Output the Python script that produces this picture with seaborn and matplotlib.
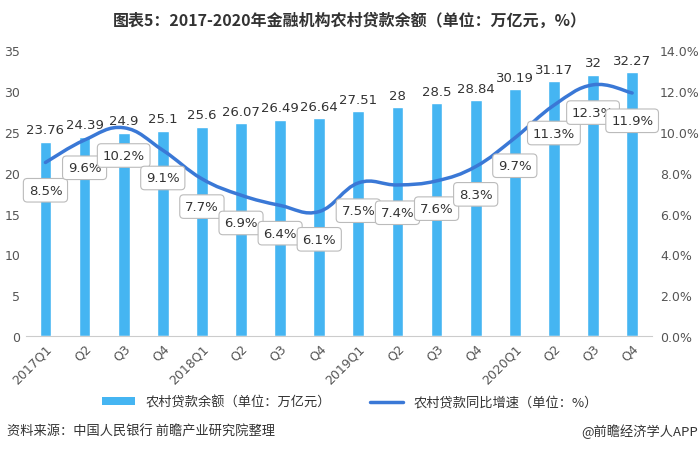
import matplotlib
matplotlib.use("Agg")
import matplotlib.pyplot as plt
from matplotlib.path import Path
from matplotlib.patches import PathPatch, Patch
from matplotlib.lines import Line2D
import numpy as np
import pandas as pd
import seaborn as sns

quarters = ["2017Q1", "Q2", "Q3", "Q4", "2018Q1", "Q2", "Q3", "Q4",
            "2019Q1", "Q2", "Q3", "Q4", "2020Q1", "Q2", "Q3", "Q4"]
balance = [23.76, 24.39, 24.9, 25.1, 25.6, 26.07, 26.49, 26.64,
           27.51, 28, 28.5, 28.84, 30.19, 31.17, 32, 32.27]
balance_text = ["23.76", "24.39", "24.9", "25.1", "25.6", "26.07", "26.49", "26.64",
                "27.51", "28", "28.5", "28.84", "30.19", "31.17", "32", "32.27"]
growth = [8.5, 9.6, 10.2, 9.1, 7.7, 6.9, 6.4, 6.1,
          7.5, 7.4, 7.6, 8.3, 9.7, 11.3, 12.3, 11.9]

bar_color = "#45B5F2"
line_color = "#3A78D6"
num_font = ["DejaVu Sans"]

sns.set_style("white")
plt.rcParams["font.family"] = ["Noto Sans CJK SC", "DejaVu Sans"]

df = pd.DataFrame({"idx": range(len(quarters)), "balance": balance})

fig = plt.figure(figsize=(7, 4.52), dpi=100)
ax = fig.add_axes([0.037, 0.254, 0.894, 0.633])
sns.barplot(data=df, x="idx", y="balance", color=bar_color, width=0.3,
            saturation=1, ax=ax)
labels = ax.bar_label(ax.containers[0], labels=balance_text, padding=4,
                      fontsize=9.5, color="#333333")
for t in labels:
    t.set_family(num_font)
ax.set_ylim(0, 35)
ax.set_yticks(range(0, 36, 5))
ax.set_xlim(-0.5, len(quarters) - 0.5)
ax.set_xticks(range(len(quarters)))
ax.set_xticklabels(quarters, rotation=45, ha="right", rotation_mode="anchor")
ax.set_xlabel("")
ax.set_ylabel("")
ax.tick_params(axis="both", labelsize=9, labelcolor="#555555", length=0, pad=4)
for t in ax.get_xticklabels() + ax.get_yticklabels():
    t.set_family(num_font)
for s in ["top", "left", "right"]:
    ax.spines[s].set_visible(False)
ax.spines["bottom"].set_color("#cccccc")

ax2 = ax.twinx()
ax2.set_ylim(0, 14)
ax2.set_yticks(np.arange(0, 14.1, 2))
ax2.set_yticklabels([f"{v:.1f}%" for v in np.arange(0, 14.1, 2)])
ax2.tick_params(axis="y", labelsize=9, labelcolor="#555555", length=0, pad=6)
for t in ax2.get_yticklabels():
    t.set_family(num_font)
for s in ax2.spines.values():
    s.set_visible(False)

# smooth curve through the growth points (cubic Bezier segments)
xs = np.arange(len(growth), dtype=float)
ys = np.array(growth, dtype=float)
k = 0.2
verts = [(xs[0], ys[0])]
codes = [Path.MOVETO]
n = len(xs)
for i in range(n - 1):
    p0 = max(i - 1, 0)
    p3 = min(i + 2, n - 1)
    c1 = (xs[i] + (xs[i + 1] - xs[p0]) * k, ys[i] + (ys[i + 1] - ys[p0]) * k)
    c2 = (xs[i + 1] - (xs[p3] - xs[i]) * k, ys[i + 1] - (ys[p3] - ys[i]) * k)
    verts += [c1, c2, (xs[i + 1], ys[i + 1])]
    codes += [Path.CURVE4, Path.CURVE4, Path.CURVE4]
ax2.add_patch(PathPatch(Path(verts, codes), fill=False, edgecolor=line_color,
                        linewidth=2.5, capstyle="round", zorder=3))

for x, y in zip(xs, ys):
    ax2.annotate(f"{y}%", (x, y), xytext=(0, -20), textcoords="offset points",
                 ha="center", va="center", fontsize=9.5, color="#333333",
                 family=num_font,
                 bbox=dict(boxstyle="round,pad=0.4,rounding_size=0.3",
                           fc="white", ec="#bbbbbb", lw=0.8), zorder=4)

fig.text(0.5, 0.955, "图表5：2017-2020年金融机构农村贷款余额（单位：万亿元，%）",
         ha="center", va="center", fontsize=11.5, fontweight="bold", color="#333333")

handles = [Patch(facecolor=bar_color, edgecolor="none"),
           Line2D([0], [0], color=line_color, linewidth=2.5)]
fig.legend(handles, ["农村贷款余额（单位：万亿元）", "农村贷款同比增速（单位：%）"],
           loc="center", bbox_to_anchor=(0.5, 0.108), ncol=2, frameon=False,
           fontsize=9.5, handlelength=2.5, handleheight=0.5, columnspacing=3,
           labelcolor="#333333")

fig.text(0.01, 0.044, "资料来源：中国人民银行 前瞻产业研究院整理", ha="left",
         va="center", fontsize=9.5, color="#333333")
fig.text(0.997, 0.044, "@前瞻经济学人APP", ha="right", va="center",
         fontsize=9.5, color="#333333")

fig.savefig("out.png", dpi=100)
